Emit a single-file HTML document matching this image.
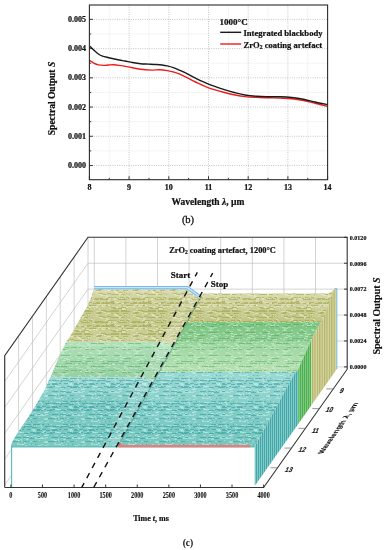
<!DOCTYPE html>
<html><head><meta charset="utf-8"><title>Spectral output</title><style>
html,body{margin:0;padding:0;background:#fff;}
svg{display:block;}
text{font-family:"Liberation Serif","Times New Roman",serif;font-weight:bold;fill:#111;stroke:#111;stroke-width:0.22px;}
.tl{font-size:8px;}
.tl3{font-size:6.5px;}
.wl{font-size:6.4px;stroke-width:0.12px;font-family:"Liberation Sans",Arial,sans-serif;}
.tlb{font-size:7.4px;stroke-width:0.1px;}
.at3w{font-size:7.4px;stroke-width:0.12px;font-family:"Liberation Sans",Arial,sans-serif;}
.at3r{font-size:10px;stroke-width:0.15px;}
.at3t{font-size:8.35px;}
.at3s{font-size:9px;}
.at{font-size:9.5px;}
.at3{font-size:8px;}
.lg{font-size:8.6px;}
.lg0{font-size:9px;}
.cap{font-size:10.5px;font-weight:normal;stroke-width:0.3px;}
.capc{font-size:9.6px;stroke-width:0px;}
.gmaj{stroke:#b0b0b0;stroke-width:0.8;stroke-dasharray:0.9 1.4;}
.gmin{stroke:#ececec;stroke-width:0.6;}
.tk{stroke:#222;stroke-width:0.9;}
.tk2{stroke:#666;stroke-width:0.7;}
.frame{fill:none;stroke:#2a2a2a;stroke-width:1.1;}
.ck{fill:none;stroke:#1a1a1a;stroke-width:1.4;}
.cb{fill:none;stroke:#ee1c1c;stroke-width:1.4;}
.g3{stroke:#bcbcbc;stroke-width:0.65;}
.bx{fill:none;stroke:#333;stroke-width:1.1;stroke-linejoin:miter;}
.blu{fill:none;stroke:#74b8f0;stroke-width:3.3;}
.blui{fill:none;stroke:#cde6fb;stroke-width:1.3;}
.blu2{fill:none;stroke:#7cc0ec;stroke-width:1;}
.dash{stroke:#111;stroke-width:1.4;stroke-dasharray:5.8 5.65;stroke-dashoffset:1.3;}
</style></head>
<body><svg width="385" height="550" viewBox="0 0 385 550">
<defs><linearGradient id="gOlL" gradientUnits="userSpaceOnUse" x1="0" y1="288.0" x2="0" y2="342.0"><stop offset="0.000" stop-color="#dcdeb6"/><stop offset="0.167" stop-color="#d1d4a2"/><stop offset="0.407" stop-color="#c7cb90"/><stop offset="0.778" stop-color="#c8cc92"/><stop offset="1.000" stop-color="#cfd3a0"/></linearGradient><linearGradient id="gOlR" gradientUnits="userSpaceOnUse" x1="0" y1="293.0" x2="0" y2="322.0"><stop offset="0.000" stop-color="#d8daae"/><stop offset="0.414" stop-color="#cdd19c"/><stop offset="0.862" stop-color="#c3c788"/><stop offset="1.000" stop-color="#bfc384"/></linearGradient><linearGradient id="gGrL" gradientUnits="userSpaceOnUse" x1="0" y1="342.0" x2="0" y2="376.6"><stop offset="0.000" stop-color="#b2e0ba"/><stop offset="0.376" stop-color="#a6d9b0"/><stop offset="1.000" stop-color="#96d0a2"/></linearGradient><linearGradient id="gGrR" gradientUnits="userSpaceOnUse" x1="0" y1="322.0" x2="0" y2="372.8"><stop offset="0.000" stop-color="#7ac480"/><stop offset="0.256" stop-color="#88ca8c"/><stop offset="0.492" stop-color="#a2d8a4"/><stop offset="1.000" stop-color="#b6e0b2"/></linearGradient><linearGradient id="gTeL" gradientUnits="userSpaceOnUse" x1="0" y1="376.6" x2="0" y2="447.0"><stop offset="0.000" stop-color="#9cd8d2"/><stop offset="0.219" stop-color="#8cd0ca"/><stop offset="0.403" stop-color="#7cc8c2"/><stop offset="1.000" stop-color="#7ac8c0"/></linearGradient><linearGradient id="gTeR" gradientUnits="userSpaceOnUse" x1="0" y1="372.8" x2="0" y2="447.0"><stop offset="0.000" stop-color="#9cd8d2"/><stop offset="0.299" stop-color="#8ed2cc"/><stop offset="0.636" stop-color="#7ecac4"/><stop offset="1.000" stop-color="#78c6be"/></linearGradient><pattern id="tOl" width="37" height="23" patternUnits="userSpaceOnUse"><rect x="0" y="0" width="3" height="1" fill="rgba(140,145,40,0.42)"/><rect x="7" y="0" width="9" height="1" fill="rgba(140,145,40,0.42)"/><rect x="20" y="0" width="5" height="1" fill="rgba(140,145,40,0.42)"/><rect x="26" y="0" width="8" height="1" fill="rgba(140,145,40,0.42)"/><rect x="35" y="0" width="2" height="1" fill="rgba(140,145,40,0.42)"/><rect x="0" y="2" width="7" height="1" fill="rgba(140,145,40,0.42)"/><rect x="29" y="2" width="5" height="1" fill="rgba(140,145,40,0.42)"/><rect x="0" y="3" width="3" height="1" fill="rgba(140,145,40,0.42)"/><rect x="13" y="3" width="5" height="1" fill="rgba(140,145,40,0.42)"/><rect x="22" y="3" width="8" height="1" fill="rgba(140,145,40,0.42)"/><rect x="31" y="3" width="6" height="1" fill="rgba(140,145,40,0.42)"/><rect x="0" y="4" width="4" height="1" fill="rgba(140,145,40,0.42)"/><rect x="7" y="4" width="3" height="1" fill="rgba(140,145,40,0.42)"/><rect x="11" y="4" width="4" height="1" fill="rgba(140,145,40,0.42)"/><rect x="19" y="4" width="7" height="1" fill="rgba(140,145,40,0.42)"/><rect x="27" y="4" width="9" height="1" fill="rgba(140,145,40,0.42)"/><rect x="7" y="6" width="5" height="1" fill="rgba(140,145,40,0.42)"/><rect x="15" y="6" width="7" height="1" fill="rgba(140,145,40,0.42)"/><rect x="25" y="6" width="2" height="1" fill="rgba(140,145,40,0.42)"/><rect x="29" y="6" width="5" height="1" fill="rgba(140,145,40,0.42)"/><rect x="0" y="8" width="7" height="1" fill="rgba(140,145,40,0.42)"/><rect x="8" y="8" width="7" height="1" fill="rgba(140,145,40,0.42)"/><rect x="0" y="9" width="6" height="1" fill="rgba(140,145,40,0.42)"/><rect x="7" y="9" width="4" height="1" fill="rgba(140,145,40,0.42)"/><rect x="12" y="9" width="4" height="1" fill="rgba(140,145,40,0.42)"/><rect x="0" y="11" width="8" height="1" fill="rgba(140,145,40,0.42)"/><rect x="10" y="11" width="6" height="1" fill="rgba(140,145,40,0.42)"/><rect x="27" y="11" width="5" height="1" fill="rgba(140,145,40,0.42)"/><rect x="0" y="12" width="8" height="1" fill="rgba(140,145,40,0.42)"/><rect x="10" y="12" width="9" height="1" fill="rgba(140,145,40,0.42)"/><rect x="31" y="12" width="6" height="1" fill="rgba(140,145,40,0.42)"/><rect x="24" y="13" width="6" height="1" fill="rgba(140,145,40,0.42)"/><rect x="0" y="14" width="2" height="1" fill="rgba(140,145,40,0.42)"/><rect x="5" y="14" width="3" height="1" fill="rgba(140,145,40,0.42)"/><rect x="12" y="14" width="5" height="1" fill="rgba(140,145,40,0.42)"/><rect x="21" y="14" width="6" height="1" fill="rgba(140,145,40,0.42)"/><rect x="7" y="16" width="7" height="1" fill="rgba(140,145,40,0.42)"/><rect x="15" y="17" width="7" height="1" fill="rgba(140,145,40,0.42)"/><rect x="23" y="17" width="6" height="1" fill="rgba(140,145,40,0.42)"/><rect x="33" y="17" width="4" height="1" fill="rgba(140,145,40,0.42)"/><rect x="0" y="18" width="8" height="1" fill="rgba(140,145,40,0.42)"/><rect x="10" y="18" width="4" height="1" fill="rgba(140,145,40,0.42)"/><rect x="18" y="18" width="3" height="1" fill="rgba(140,145,40,0.42)"/><rect x="29" y="18" width="6" height="1" fill="rgba(140,145,40,0.42)"/><rect x="0" y="21" width="2" height="1" fill="rgba(140,145,40,0.42)"/><rect x="3" y="21" width="2" height="1" fill="rgba(140,145,40,0.42)"/><rect x="9" y="21" width="4" height="1" fill="rgba(140,145,40,0.42)"/><rect x="15" y="21" width="5" height="1" fill="rgba(140,145,40,0.42)"/><rect x="33" y="21" width="4" height="1" fill="rgba(140,145,40,0.42)"/><rect x="6" y="22" width="2" height="1" fill="rgba(140,145,40,0.42)"/><rect x="11" y="22" width="7" height="1" fill="rgba(140,145,40,0.42)"/><rect x="21" y="22" width="8" height="1" fill="rgba(140,145,40,0.42)"/><rect x="32" y="22" width="5" height="1" fill="rgba(140,145,40,0.42)"/><rect x="34" y="22" width="3" height="1" fill="rgba(242,244,216,0.45)"/><rect x="22" y="8" width="2" height="1" fill="rgba(242,244,216,0.45)"/><rect x="34" y="6" width="2" height="1" fill="rgba(242,244,216,0.45)"/><rect x="12" y="7" width="2" height="1" fill="rgba(242,244,216,0.45)"/><rect x="5" y="8" width="1" height="1" fill="rgba(242,244,216,0.45)"/><rect x="28" y="2" width="4" height="1" fill="rgba(242,244,216,0.45)"/><rect x="21" y="7" width="3" height="1" fill="rgba(242,244,216,0.45)"/><rect x="19" y="1" width="2" height="1" fill="rgba(242,244,216,0.45)"/><rect x="11" y="10" width="4" height="1" fill="rgba(242,244,216,0.45)"/><rect x="19" y="7" width="2" height="1" fill="rgba(242,244,216,0.45)"/><rect x="6" y="17" width="4" height="1" fill="rgba(242,244,216,0.45)"/><rect x="5" y="7" width="2" height="1" fill="rgba(242,244,216,0.45)"/><rect x="1" y="7" width="3" height="1" fill="rgba(242,244,216,0.45)"/><rect x="4" y="8" width="4" height="1" fill="rgba(242,244,216,0.45)"/><rect x="4" y="2" width="1" height="1" fill="rgba(242,244,216,0.45)"/><rect x="0" y="9" width="2" height="1" fill="rgba(242,244,216,0.45)"/><rect x="31" y="15" width="2" height="1" fill="rgba(242,244,216,0.45)"/><rect x="6" y="16" width="2" height="1" fill="rgba(242,244,216,0.45)"/><rect x="4" y="16" width="2" height="1" fill="rgba(242,244,216,0.45)"/><rect x="11" y="4" width="2" height="1" fill="rgba(242,244,216,0.45)"/><rect x="20" y="9" width="1" height="1" fill="rgba(242,244,216,0.45)"/><rect x="32" y="19" width="2" height="1" fill="rgba(242,244,216,0.45)"/><rect x="8" y="6" width="2" height="1" fill="rgba(242,244,216,0.45)"/><rect x="34" y="1" width="2" height="1" fill="rgba(242,244,216,0.45)"/><rect x="35" y="22" width="2" height="1" fill="rgba(242,244,216,0.45)"/><rect x="11" y="9" width="3" height="1" fill="rgba(242,244,216,0.45)"/><rect x="34" y="5" width="1" height="1" fill="rgba(242,244,216,0.45)"/><rect x="15" y="8" width="1" height="1" fill="rgba(242,244,216,0.45)"/><rect x="28" y="13" width="4" height="1" fill="rgba(242,244,216,0.45)"/><rect x="16" y="17" width="3" height="1" fill="rgba(242,244,216,0.45)"/><rect x="34" y="14" width="1" height="1" fill="rgba(242,244,216,0.45)"/><rect x="25" y="10" width="2" height="1" fill="rgba(242,244,216,0.45)"/><rect x="16" y="15" width="1" height="1" fill="rgba(242,244,216,0.45)"/><rect x="26" y="18" width="1" height="1" fill="rgba(242,244,216,0.45)"/><rect x="3" y="22" width="2" height="1" fill="rgba(242,244,216,0.45)"/><rect x="8" y="18" width="2" height="1" fill="rgba(242,244,216,0.45)"/><rect x="8" y="8" width="2" height="1" fill="rgba(242,244,216,0.45)"/><rect x="25" y="18" width="3" height="1" fill="rgba(242,244,216,0.45)"/><rect x="11" y="19" width="1" height="1" fill="rgba(242,244,216,0.45)"/><rect x="14" y="15" width="1" height="1" fill="rgba(242,244,216,0.45)"/><rect x="11" y="16" width="2" height="1" fill="rgba(242,244,216,0.45)"/><rect x="32" y="20" width="3" height="1" fill="rgba(242,244,216,0.45)"/><rect x="14" y="7" width="2" height="1" fill="rgba(242,244,216,0.45)"/><rect x="31" y="21" width="3" height="1" fill="rgba(242,244,216,0.45)"/><rect x="14" y="22" width="3" height="1" fill="rgba(242,244,216,0.45)"/><rect x="21" y="17" width="4" height="1" fill="rgba(242,244,216,0.45)"/><rect x="17" y="20" width="2" height="1" fill="rgba(242,244,216,0.45)"/><rect x="3" y="2" width="4" height="1" fill="rgba(242,244,216,0.45)"/><rect x="23" y="5" width="4" height="1" fill="rgba(242,244,216,0.45)"/><rect x="13" y="9" width="2" height="1" fill="rgba(242,244,216,0.45)"/><rect x="19" y="17" width="2" height="1" fill="rgba(242,244,216,0.45)"/><rect x="10" y="22" width="3" height="1" fill="rgba(242,244,216,0.45)"/><rect x="5" y="3" width="4" height="1" fill="rgba(242,244,216,0.45)"/><rect x="32" y="18" width="3" height="1" fill="rgba(242,244,216,0.45)"/><rect x="11" y="4" width="2" height="1" fill="rgba(242,244,216,0.45)"/><rect x="27" y="6" width="4" height="1" fill="rgba(242,244,216,0.45)"/><rect x="3" y="15" width="3" height="1" fill="rgba(242,244,216,0.45)"/><rect x="22" y="12" width="4" height="1" fill="rgba(242,244,216,0.45)"/><rect x="10" y="17" width="1" height="1" fill="rgba(242,244,216,0.45)"/><rect x="33" y="2" width="2" height="1" fill="rgba(242,244,216,0.45)"/><rect x="6" y="8" width="1" height="1" fill="rgba(242,244,216,0.45)"/><rect x="8" y="19" width="1" height="1" fill="rgba(242,244,216,0.45)"/><rect x="28" y="7" width="3" height="1" fill="rgba(242,244,216,0.45)"/><rect x="27" y="12" width="2" height="1" fill="rgba(242,244,216,0.45)"/><rect x="20" y="14" width="2" height="1" fill="rgba(242,244,216,0.45)"/><rect x="31" y="6" width="1" height="1" fill="rgba(242,244,216,0.45)"/><rect x="27" y="19" width="4" height="1" fill="rgba(242,244,216,0.45)"/><rect x="26" y="3" width="2" height="1" fill="rgba(242,244,216,0.45)"/><rect x="17" y="7" width="3" height="1" fill="rgba(242,244,216,0.45)"/><rect x="35" y="0" width="2" height="1" fill="rgba(242,244,216,0.45)"/><rect x="33" y="14" width="4" height="1" fill="rgba(242,244,216,0.45)"/><rect x="1" y="0" width="4" height="1" fill="rgba(242,244,216,0.45)"/><rect x="15" y="8" width="2" height="1" fill="rgba(242,244,216,0.45)"/><rect x="11" y="9" width="2" height="1" fill="rgba(242,244,216,0.45)"/><rect x="34" y="6" width="2" height="1" fill="rgba(242,244,216,0.45)"/><rect x="19" y="18" width="2" height="1" fill="rgba(242,244,216,0.45)"/><rect x="28" y="5" width="4" height="1" fill="rgba(242,244,216,0.45)"/><rect x="22" y="15" width="3" height="1" fill="rgba(242,244,216,0.45)"/><rect x="7" y="6" width="4" height="1" fill="rgba(242,244,216,0.45)"/><rect x="24" y="6" width="2" height="1" fill="rgba(242,244,216,0.45)"/><rect x="6" y="0" width="1" height="1" fill="rgba(242,244,216,0.45)"/><rect x="36" y="0" width="4" height="1" fill="rgba(242,244,216,0.45)"/><rect x="18" y="21" width="2" height="1" fill="rgba(242,244,216,0.45)"/><rect x="4" y="16" width="2" height="1" fill="rgba(242,244,216,0.45)"/><rect x="36" y="9" width="3" height="1" fill="rgba(242,244,216,0.45)"/></pattern><pattern id="tGr" width="37" height="23" patternUnits="userSpaceOnUse"><rect x="0" y="2" width="3" height="1" fill="rgba(50,160,70,0.40)"/><rect x="5" y="2" width="6" height="1" fill="rgba(50,160,70,0.40)"/><rect x="13" y="2" width="2" height="1" fill="rgba(50,160,70,0.40)"/><rect x="28" y="2" width="9" height="1" fill="rgba(50,160,70,0.40)"/><rect x="11" y="4" width="4" height="1" fill="rgba(50,160,70,0.40)"/><rect x="17" y="4" width="5" height="1" fill="rgba(50,160,70,0.40)"/><rect x="25" y="4" width="4" height="1" fill="rgba(50,160,70,0.40)"/><rect x="0" y="10" width="9" height="1" fill="rgba(50,160,70,0.40)"/><rect x="24" y="10" width="9" height="1" fill="rgba(50,160,70,0.40)"/><rect x="13" y="13" width="7" height="1" fill="rgba(50,160,70,0.40)"/><rect x="0" y="16" width="8" height="1" fill="rgba(50,160,70,0.40)"/><rect x="10" y="16" width="9" height="1" fill="rgba(50,160,70,0.40)"/><rect x="29" y="16" width="3" height="1" fill="rgba(50,160,70,0.40)"/><rect x="33" y="16" width="4" height="1" fill="rgba(50,160,70,0.40)"/><rect x="0" y="18" width="6" height="1" fill="rgba(50,160,70,0.40)"/><rect x="8" y="18" width="2" height="1" fill="rgba(50,160,70,0.40)"/><rect x="11" y="18" width="2" height="1" fill="rgba(50,160,70,0.40)"/><rect x="28" y="18" width="7" height="1" fill="rgba(50,160,70,0.40)"/><rect x="17" y="21" width="6" height="1" fill="rgba(50,160,70,0.40)"/><rect x="24" y="21" width="6" height="1" fill="rgba(50,160,70,0.40)"/><rect x="14" y="2" width="2" height="1" fill="rgba(216,245,220,0.45)"/><rect x="6" y="0" width="3" height="1" fill="rgba(216,245,220,0.45)"/><rect x="8" y="16" width="4" height="1" fill="rgba(216,245,220,0.45)"/><rect x="25" y="15" width="4" height="1" fill="rgba(216,245,220,0.45)"/><rect x="20" y="4" width="2" height="1" fill="rgba(216,245,220,0.45)"/><rect x="16" y="8" width="4" height="1" fill="rgba(216,245,220,0.45)"/><rect x="26" y="20" width="1" height="1" fill="rgba(216,245,220,0.45)"/><rect x="35" y="4" width="1" height="1" fill="rgba(216,245,220,0.45)"/><rect x="16" y="1" width="2" height="1" fill="rgba(216,245,220,0.45)"/><rect x="10" y="5" width="1" height="1" fill="rgba(216,245,220,0.45)"/><rect x="29" y="20" width="2" height="1" fill="rgba(216,245,220,0.45)"/><rect x="32" y="22" width="1" height="1" fill="rgba(216,245,220,0.45)"/><rect x="15" y="7" width="3" height="1" fill="rgba(216,245,220,0.45)"/><rect x="4" y="8" width="1" height="1" fill="rgba(216,245,220,0.45)"/><rect x="14" y="19" width="4" height="1" fill="rgba(216,245,220,0.45)"/><rect x="23" y="8" width="3" height="1" fill="rgba(216,245,220,0.45)"/><rect x="17" y="16" width="1" height="1" fill="rgba(216,245,220,0.45)"/><rect x="9" y="1" width="3" height="1" fill="rgba(216,245,220,0.45)"/><rect x="26" y="5" width="1" height="1" fill="rgba(216,245,220,0.45)"/><rect x="32" y="2" width="2" height="1" fill="rgba(216,245,220,0.45)"/><rect x="6" y="3" width="1" height="1" fill="rgba(216,245,220,0.45)"/><rect x="11" y="7" width="1" height="1" fill="rgba(216,245,220,0.45)"/><rect x="13" y="0" width="4" height="1" fill="rgba(216,245,220,0.45)"/><rect x="29" y="14" width="2" height="1" fill="rgba(216,245,220,0.45)"/><rect x="34" y="20" width="3" height="1" fill="rgba(216,245,220,0.45)"/><rect x="13" y="21" width="2" height="1" fill="rgba(216,245,220,0.45)"/><rect x="27" y="13" width="4" height="1" fill="rgba(216,245,220,0.45)"/><rect x="1" y="18" width="4" height="1" fill="rgba(216,245,220,0.45)"/><rect x="3" y="13" width="4" height="1" fill="rgba(216,245,220,0.45)"/><rect x="11" y="3" width="3" height="1" fill="rgba(216,245,220,0.45)"/><rect x="23" y="0" width="4" height="1" fill="rgba(216,245,220,0.45)"/><rect x="7" y="19" width="2" height="1" fill="rgba(216,245,220,0.45)"/><rect x="18" y="22" width="2" height="1" fill="rgba(216,245,220,0.45)"/><rect x="19" y="0" width="3" height="1" fill="rgba(216,245,220,0.45)"/><rect x="6" y="3" width="2" height="1" fill="rgba(216,245,220,0.45)"/><rect x="12" y="21" width="1" height="1" fill="rgba(216,245,220,0.45)"/><rect x="28" y="1" width="3" height="1" fill="rgba(216,245,220,0.45)"/><rect x="31" y="14" width="2" height="1" fill="rgba(216,245,220,0.45)"/><rect x="4" y="0" width="2" height="1" fill="rgba(216,245,220,0.45)"/><rect x="1" y="11" width="2" height="1" fill="rgba(216,245,220,0.45)"/><rect x="4" y="7" width="3" height="1" fill="rgba(216,245,220,0.45)"/><rect x="12" y="3" width="4" height="1" fill="rgba(216,245,220,0.45)"/><rect x="23" y="12" width="3" height="1" fill="rgba(216,245,220,0.45)"/><rect x="8" y="11" width="3" height="1" fill="rgba(216,245,220,0.45)"/><rect x="7" y="8" width="1" height="1" fill="rgba(216,245,220,0.45)"/><rect x="7" y="2" width="4" height="1" fill="rgba(216,245,220,0.45)"/><rect x="21" y="20" width="3" height="1" fill="rgba(216,245,220,0.45)"/><rect x="13" y="22" width="1" height="1" fill="rgba(216,245,220,0.45)"/><rect x="1" y="19" width="3" height="1" fill="rgba(216,245,220,0.45)"/><rect x="2" y="22" width="3" height="1" fill="rgba(216,245,220,0.45)"/><rect x="18" y="11" width="3" height="1" fill="rgba(216,245,220,0.45)"/><rect x="9" y="11" width="2" height="1" fill="rgba(216,245,220,0.45)"/><rect x="30" y="16" width="3" height="1" fill="rgba(216,245,220,0.45)"/><rect x="26" y="15" width="2" height="1" fill="rgba(216,245,220,0.45)"/><rect x="25" y="7" width="2" height="1" fill="rgba(216,245,220,0.45)"/><rect x="31" y="19" width="2" height="1" fill="rgba(216,245,220,0.45)"/><rect x="35" y="13" width="1" height="1" fill="rgba(216,245,220,0.45)"/><rect x="36" y="3" width="1" height="1" fill="rgba(216,245,220,0.45)"/><rect x="22" y="5" width="4" height="1" fill="rgba(216,245,220,0.45)"/><rect x="9" y="13" width="1" height="1" fill="rgba(216,245,220,0.45)"/><rect x="5" y="21" width="1" height="1" fill="rgba(216,245,220,0.45)"/><rect x="8" y="9" width="3" height="1" fill="rgba(216,245,220,0.45)"/><rect x="14" y="22" width="2" height="1" fill="rgba(216,245,220,0.45)"/><rect x="28" y="5" width="4" height="1" fill="rgba(216,245,220,0.45)"/><rect x="18" y="3" width="2" height="1" fill="rgba(216,245,220,0.45)"/><rect x="34" y="13" width="1" height="1" fill="rgba(216,245,220,0.45)"/><rect x="21" y="16" width="2" height="1" fill="rgba(216,245,220,0.45)"/><rect x="32" y="8" width="2" height="1" fill="rgba(216,245,220,0.45)"/><rect x="10" y="14" width="2" height="1" fill="rgba(216,245,220,0.45)"/><rect x="25" y="11" width="4" height="1" fill="rgba(216,245,220,0.45)"/><rect x="9" y="14" width="3" height="1" fill="rgba(216,245,220,0.45)"/><rect x="1" y="19" width="3" height="1" fill="rgba(216,245,220,0.45)"/><rect x="11" y="12" width="4" height="1" fill="rgba(216,245,220,0.45)"/><rect x="3" y="15" width="2" height="1" fill="rgba(216,245,220,0.45)"/><rect x="25" y="8" width="3" height="1" fill="rgba(216,245,220,0.45)"/><rect x="30" y="11" width="4" height="1" fill="rgba(216,245,220,0.45)"/><rect x="21" y="22" width="1" height="1" fill="rgba(216,245,220,0.45)"/><rect x="14" y="17" width="4" height="1" fill="rgba(216,245,220,0.45)"/><rect x="12" y="12" width="3" height="1" fill="rgba(216,245,220,0.45)"/><rect x="0" y="10" width="3" height="1" fill="rgba(216,245,220,0.45)"/><rect x="33" y="22" width="3" height="1" fill="rgba(216,245,220,0.45)"/><rect x="11" y="3" width="1" height="1" fill="rgba(216,245,220,0.45)"/><rect x="25" y="6" width="4" height="1" fill="rgba(216,245,220,0.45)"/><rect x="24" y="6" width="1" height="1" fill="rgba(216,245,220,0.45)"/><rect x="24" y="17" width="2" height="1" fill="rgba(216,245,220,0.45)"/></pattern><pattern id="tTe" width="37" height="23" patternUnits="userSpaceOnUse"><rect x="0" y="0" width="4" height="1" fill="rgba(20,140,145,0.42)"/><rect x="15" y="0" width="6" height="1" fill="rgba(20,140,145,0.42)"/><rect x="23" y="0" width="9" height="1" fill="rgba(20,140,145,0.42)"/><rect x="25" y="1" width="9" height="1" fill="rgba(20,140,145,0.42)"/><rect x="11" y="4" width="7" height="1" fill="rgba(20,140,145,0.42)"/><rect x="20" y="4" width="9" height="1" fill="rgba(20,140,145,0.42)"/><rect x="33" y="4" width="4" height="1" fill="rgba(20,140,145,0.42)"/><rect x="30" y="7" width="6" height="1" fill="rgba(20,140,145,0.42)"/><rect x="0" y="10" width="3" height="1" fill="rgba(20,140,145,0.42)"/><rect x="5" y="10" width="2" height="1" fill="rgba(20,140,145,0.42)"/><rect x="11" y="10" width="3" height="1" fill="rgba(20,140,145,0.42)"/><rect x="26" y="10" width="6" height="1" fill="rgba(20,140,145,0.42)"/><rect x="33" y="10" width="4" height="1" fill="rgba(20,140,145,0.42)"/><rect x="8" y="12" width="6" height="1" fill="rgba(20,140,145,0.42)"/><rect x="15" y="12" width="7" height="1" fill="rgba(20,140,145,0.42)"/><rect x="24" y="12" width="8" height="1" fill="rgba(20,140,145,0.42)"/><rect x="9" y="13" width="6" height="1" fill="rgba(20,140,145,0.42)"/><rect x="23" y="13" width="2" height="1" fill="rgba(20,140,145,0.42)"/><rect x="32" y="13" width="5" height="1" fill="rgba(20,140,145,0.42)"/><rect x="0" y="15" width="9" height="1" fill="rgba(20,140,145,0.42)"/><rect x="15" y="15" width="9" height="1" fill="rgba(20,140,145,0.42)"/><rect x="27" y="15" width="4" height="1" fill="rgba(20,140,145,0.42)"/><rect x="0" y="16" width="8" height="1" fill="rgba(20,140,145,0.42)"/><rect x="9" y="16" width="4" height="1" fill="rgba(20,140,145,0.42)"/><rect x="15" y="16" width="6" height="1" fill="rgba(20,140,145,0.42)"/><rect x="0" y="18" width="4" height="1" fill="rgba(20,140,145,0.42)"/><rect x="6" y="18" width="9" height="1" fill="rgba(20,140,145,0.42)"/><rect x="16" y="18" width="2" height="1" fill="rgba(20,140,145,0.42)"/><rect x="29" y="18" width="6" height="1" fill="rgba(20,140,145,0.42)"/><rect x="36" y="18" width="1" height="1" fill="rgba(20,140,145,0.42)"/><rect x="0" y="19" width="6" height="1" fill="rgba(20,140,145,0.42)"/><rect x="10" y="19" width="6" height="1" fill="rgba(20,140,145,0.42)"/><rect x="24" y="19" width="5" height="1" fill="rgba(20,140,145,0.42)"/><rect x="33" y="19" width="4" height="1" fill="rgba(20,140,145,0.42)"/><rect x="18" y="17" width="2" height="1" fill="rgba(206,244,242,0.45)"/><rect x="14" y="2" width="4" height="1" fill="rgba(206,244,242,0.45)"/><rect x="18" y="3" width="2" height="1" fill="rgba(206,244,242,0.45)"/><rect x="2" y="1" width="4" height="1" fill="rgba(206,244,242,0.45)"/><rect x="12" y="13" width="4" height="1" fill="rgba(206,244,242,0.45)"/><rect x="3" y="0" width="3" height="1" fill="rgba(206,244,242,0.45)"/><rect x="7" y="5" width="4" height="1" fill="rgba(206,244,242,0.45)"/><rect x="19" y="7" width="1" height="1" fill="rgba(206,244,242,0.45)"/><rect x="33" y="17" width="3" height="1" fill="rgba(206,244,242,0.45)"/><rect x="3" y="19" width="1" height="1" fill="rgba(206,244,242,0.45)"/><rect x="21" y="4" width="2" height="1" fill="rgba(206,244,242,0.45)"/><rect x="34" y="15" width="1" height="1" fill="rgba(206,244,242,0.45)"/><rect x="22" y="7" width="2" height="1" fill="rgba(206,244,242,0.45)"/><rect x="7" y="17" width="1" height="1" fill="rgba(206,244,242,0.45)"/><rect x="10" y="7" width="2" height="1" fill="rgba(206,244,242,0.45)"/><rect x="8" y="0" width="3" height="1" fill="rgba(206,244,242,0.45)"/><rect x="36" y="12" width="1" height="1" fill="rgba(206,244,242,0.45)"/><rect x="17" y="7" width="2" height="1" fill="rgba(206,244,242,0.45)"/><rect x="33" y="16" width="3" height="1" fill="rgba(206,244,242,0.45)"/><rect x="3" y="15" width="2" height="1" fill="rgba(206,244,242,0.45)"/><rect x="0" y="1" width="2" height="1" fill="rgba(206,244,242,0.45)"/><rect x="2" y="3" width="1" height="1" fill="rgba(206,244,242,0.45)"/><rect x="4" y="15" width="1" height="1" fill="rgba(206,244,242,0.45)"/><rect x="5" y="16" width="4" height="1" fill="rgba(206,244,242,0.45)"/><rect x="31" y="10" width="2" height="1" fill="rgba(206,244,242,0.45)"/><rect x="20" y="2" width="2" height="1" fill="rgba(206,244,242,0.45)"/><rect x="24" y="20" width="3" height="1" fill="rgba(206,244,242,0.45)"/><rect x="19" y="11" width="2" height="1" fill="rgba(206,244,242,0.45)"/><rect x="12" y="10" width="3" height="1" fill="rgba(206,244,242,0.45)"/><rect x="7" y="4" width="4" height="1" fill="rgba(206,244,242,0.45)"/><rect x="0" y="22" width="3" height="1" fill="rgba(206,244,242,0.45)"/><rect x="5" y="18" width="2" height="1" fill="rgba(206,244,242,0.45)"/><rect x="2" y="11" width="3" height="1" fill="rgba(206,244,242,0.45)"/><rect x="34" y="12" width="1" height="1" fill="rgba(206,244,242,0.45)"/><rect x="27" y="1" width="2" height="1" fill="rgba(206,244,242,0.45)"/><rect x="31" y="22" width="2" height="1" fill="rgba(206,244,242,0.45)"/><rect x="26" y="22" width="3" height="1" fill="rgba(206,244,242,0.45)"/><rect x="29" y="0" width="2" height="1" fill="rgba(206,244,242,0.45)"/><rect x="13" y="17" width="2" height="1" fill="rgba(206,244,242,0.45)"/><rect x="4" y="13" width="2" height="1" fill="rgba(206,244,242,0.45)"/><rect x="27" y="4" width="1" height="1" fill="rgba(206,244,242,0.45)"/><rect x="20" y="11" width="4" height="1" fill="rgba(206,244,242,0.45)"/><rect x="16" y="3" width="3" height="1" fill="rgba(206,244,242,0.45)"/><rect x="7" y="21" width="4" height="1" fill="rgba(206,244,242,0.45)"/><rect x="24" y="21" width="1" height="1" fill="rgba(206,244,242,0.45)"/><rect x="20" y="18" width="4" height="1" fill="rgba(206,244,242,0.45)"/><rect x="6" y="18" width="1" height="1" fill="rgba(206,244,242,0.45)"/><rect x="30" y="4" width="2" height="1" fill="rgba(206,244,242,0.45)"/><rect x="24" y="1" width="4" height="1" fill="rgba(206,244,242,0.45)"/><rect x="5" y="18" width="1" height="1" fill="rgba(206,244,242,0.45)"/><rect x="24" y="5" width="1" height="1" fill="rgba(206,244,242,0.45)"/><rect x="21" y="3" width="1" height="1" fill="rgba(206,244,242,0.45)"/><rect x="7" y="21" width="3" height="1" fill="rgba(206,244,242,0.45)"/><rect x="18" y="18" width="2" height="1" fill="rgba(206,244,242,0.45)"/><rect x="5" y="1" width="4" height="1" fill="rgba(206,244,242,0.45)"/><rect x="32" y="16" width="2" height="1" fill="rgba(206,244,242,0.45)"/><rect x="6" y="17" width="1" height="1" fill="rgba(206,244,242,0.45)"/><rect x="35" y="1" width="4" height="1" fill="rgba(206,244,242,0.45)"/><rect x="20" y="18" width="2" height="1" fill="rgba(206,244,242,0.45)"/><rect x="4" y="7" width="2" height="1" fill="rgba(206,244,242,0.45)"/><rect x="15" y="14" width="4" height="1" fill="rgba(206,244,242,0.45)"/><rect x="25" y="8" width="2" height="1" fill="rgba(206,244,242,0.45)"/><rect x="25" y="11" width="4" height="1" fill="rgba(206,244,242,0.45)"/><rect x="26" y="2" width="3" height="1" fill="rgba(206,244,242,0.45)"/><rect x="32" y="7" width="3" height="1" fill="rgba(206,244,242,0.45)"/><rect x="10" y="13" width="4" height="1" fill="rgba(206,244,242,0.45)"/><rect x="33" y="21" width="3" height="1" fill="rgba(206,244,242,0.45)"/><rect x="9" y="20" width="3" height="1" fill="rgba(206,244,242,0.45)"/><rect x="9" y="5" width="1" height="1" fill="rgba(206,244,242,0.45)"/><rect x="31" y="15" width="4" height="1" fill="rgba(206,244,242,0.45)"/><rect x="28" y="18" width="2" height="1" fill="rgba(206,244,242,0.45)"/><rect x="8" y="8" width="2" height="1" fill="rgba(206,244,242,0.45)"/><rect x="9" y="18" width="4" height="1" fill="rgba(206,244,242,0.45)"/><rect x="20" y="7" width="4" height="1" fill="rgba(206,244,242,0.45)"/><rect x="18" y="21" width="3" height="1" fill="rgba(206,244,242,0.45)"/><rect x="17" y="6" width="2" height="1" fill="rgba(206,244,242,0.45)"/><rect x="1" y="8" width="3" height="1" fill="rgba(206,244,242,0.45)"/><rect x="24" y="6" width="2" height="1" fill="rgba(206,244,242,0.45)"/><rect x="36" y="11" width="2" height="1" fill="rgba(206,244,242,0.45)"/><rect x="20" y="15" width="2" height="1" fill="rgba(206,244,242,0.45)"/><rect x="26" y="22" width="3" height="1" fill="rgba(206,244,242,0.45)"/><rect x="13" y="14" width="4" height="1" fill="rgba(206,244,242,0.45)"/><rect x="35" y="0" width="3" height="1" fill="rgba(206,244,242,0.45)"/><rect x="4" y="12" width="1" height="1" fill="rgba(206,244,242,0.45)"/><rect x="29" y="7" width="2" height="1" fill="rgba(206,244,242,0.45)"/></pattern><pattern id="sTe" width="2" height="10" patternUnits="userSpaceOnUse"><rect width="2" height="10" fill="#88cccc"/><rect width="1.1" height="10" fill="#44a8a8"/></pattern>
<pattern id="sGr" width="2" height="10" patternUnits="userSpaceOnUse"><rect width="2" height="10" fill="#8ad28a"/><rect width="1.2" height="10" fill="#4cb052"/></pattern>
<pattern id="sOl" width="2.4" height="10" patternUnits="userSpaceOnUse"><rect width="2.4" height="10" fill="#d6d6a0"/><rect width="1.2" height="10" fill="#b4b46c"/></pattern>
</defs>
<line x1="109.25" y1="5.00" x2="109.25" y2="179.70" class="gmin"/>
<line x1="129.10" y1="5.00" x2="129.10" y2="179.70" class="gmaj"/>
<line x1="148.95" y1="5.00" x2="148.95" y2="179.70" class="gmin"/>
<line x1="168.80" y1="5.00" x2="168.80" y2="179.70" class="gmaj"/>
<line x1="188.65" y1="5.00" x2="188.65" y2="179.70" class="gmin"/>
<line x1="208.50" y1="5.00" x2="208.50" y2="179.70" class="gmaj"/>
<line x1="228.35" y1="5.00" x2="228.35" y2="179.70" class="gmin"/>
<line x1="248.20" y1="5.00" x2="248.20" y2="179.70" class="gmaj"/>
<line x1="268.05" y1="5.00" x2="268.05" y2="179.70" class="gmin"/>
<line x1="287.90" y1="5.00" x2="287.90" y2="179.70" class="gmaj"/>
<line x1="307.75" y1="5.00" x2="307.75" y2="179.70" class="gmin"/>
<line x1="89.40" y1="165.50" x2="327.60" y2="165.50" class="gmaj"/>
<line x1="89.40" y1="150.89" x2="327.60" y2="150.89" class="gmin"/>
<line x1="89.40" y1="136.28" x2="327.60" y2="136.28" class="gmaj"/>
<line x1="89.40" y1="121.67" x2="327.60" y2="121.67" class="gmin"/>
<line x1="89.40" y1="107.06" x2="327.60" y2="107.06" class="gmaj"/>
<line x1="89.40" y1="92.45" x2="327.60" y2="92.45" class="gmin"/>
<line x1="89.40" y1="77.84" x2="327.60" y2="77.84" class="gmaj"/>
<line x1="89.40" y1="63.23" x2="327.60" y2="63.23" class="gmin"/>
<line x1="89.40" y1="48.62" x2="327.60" y2="48.62" class="gmaj"/>
<line x1="89.40" y1="34.01" x2="327.60" y2="34.01" class="gmin"/>
<line x1="89.40" y1="19.40" x2="327.60" y2="19.40" class="gmaj"/>
<line x1="89.40" y1="165.50" x2="92.90" y2="165.50" class="tk"/>
<line x1="89.40" y1="150.89" x2="91.20" y2="150.89" class="tk"/>
<line x1="89.40" y1="136.28" x2="92.90" y2="136.28" class="tk"/>
<line x1="89.40" y1="121.67" x2="91.20" y2="121.67" class="tk"/>
<line x1="89.40" y1="107.06" x2="92.90" y2="107.06" class="tk"/>
<line x1="89.40" y1="92.45" x2="91.20" y2="92.45" class="tk"/>
<line x1="89.40" y1="77.84" x2="92.90" y2="77.84" class="tk"/>
<line x1="89.40" y1="63.23" x2="91.20" y2="63.23" class="tk"/>
<line x1="89.40" y1="48.62" x2="92.90" y2="48.62" class="tk"/>
<line x1="89.40" y1="34.01" x2="91.20" y2="34.01" class="tk"/>
<line x1="89.40" y1="19.40" x2="92.90" y2="19.40" class="tk"/>
<line x1="89.40" y1="179.70" x2="89.40" y2="176.20" class="tk"/>
<line x1="109.25" y1="179.70" x2="109.25" y2="177.90" class="tk"/>
<line x1="129.10" y1="179.70" x2="129.10" y2="176.20" class="tk"/>
<line x1="148.95" y1="179.70" x2="148.95" y2="177.90" class="tk"/>
<line x1="168.80" y1="179.70" x2="168.80" y2="176.20" class="tk"/>
<line x1="188.65" y1="179.70" x2="188.65" y2="177.90" class="tk"/>
<line x1="208.50" y1="179.70" x2="208.50" y2="176.20" class="tk"/>
<line x1="228.35" y1="179.70" x2="228.35" y2="177.90" class="tk"/>
<line x1="248.20" y1="179.70" x2="248.20" y2="176.20" class="tk"/>
<line x1="268.05" y1="179.70" x2="268.05" y2="177.90" class="tk"/>
<line x1="287.90" y1="179.70" x2="287.90" y2="176.20" class="tk"/>
<line x1="307.75" y1="179.70" x2="307.75" y2="177.90" class="tk"/>
<line x1="327.60" y1="179.70" x2="327.60" y2="176.20" class="tk"/>
<path d="M89.40,60.30 C90.20,60.82 92.70,62.63 94.20,63.40 C95.70,64.17 96.83,64.57 98.40,64.90 C99.97,65.23 101.87,65.38 103.60,65.40 C105.33,65.42 107.07,65.10 108.80,65.00 C110.53,64.90 112.27,64.73 114.00,64.80 C115.73,64.87 116.87,65.05 119.20,65.40 C121.53,65.75 124.43,66.25 128.00,66.90 C131.57,67.55 136.68,68.77 140.60,69.30 C144.52,69.83 148.38,70.03 151.50,70.10 C154.62,70.17 156.70,69.62 159.30,69.70 C161.90,69.78 164.25,70.07 167.10,70.60 C169.95,71.13 173.42,71.90 176.40,72.90 C179.38,73.90 181.80,75.08 185.00,76.60 C188.20,78.12 191.77,80.17 195.60,82.00 C199.43,83.83 203.33,85.88 208.00,87.60 C212.67,89.32 219.08,91.07 223.60,92.30 C228.12,93.53 231.53,94.28 235.10,95.00 C238.67,95.72 241.40,96.20 245.00,96.60 C248.60,97.00 252.80,97.20 256.70,97.40 C260.60,97.60 264.50,97.68 268.40,97.80 C272.30,97.92 276.20,97.95 280.10,98.10 C284.00,98.25 287.92,98.30 291.80,98.70 C295.68,99.10 299.52,99.73 303.40,100.50 C307.28,101.27 311.07,102.32 315.10,103.30 C319.13,104.28 325.52,105.88 327.60,106.40" class="cb"/>
<path d="M89.40,45.90 C90.20,46.65 92.70,49.05 94.20,50.40 C95.70,51.75 97.02,53.05 98.40,54.00 C99.78,54.95 100.77,55.48 102.50,56.10 C104.23,56.72 106.02,57.05 108.80,57.70 C111.58,58.35 116.50,59.45 119.20,60.00 C121.90,60.55 122.78,60.58 125.00,61.00 C127.22,61.42 129.90,62.05 132.50,62.50 C135.10,62.95 137.95,63.43 140.60,63.70 C143.25,63.97 145.80,63.97 148.40,64.10 C151.00,64.23 153.93,64.35 156.20,64.50 C158.47,64.65 160.18,64.77 162.00,65.00 C163.82,65.23 165.22,65.47 167.10,65.90 C168.98,66.33 171.15,66.85 173.30,67.60 C175.45,68.35 177.55,69.30 180.00,70.40 C182.45,71.50 185.40,72.90 188.00,74.20 C190.60,75.50 192.27,76.60 195.60,78.20 C198.93,79.80 203.33,81.95 208.00,83.80 C212.67,85.65 219.08,87.82 223.60,89.30 C228.12,90.78 231.53,91.75 235.10,92.70 C238.67,93.65 241.40,94.40 245.00,95.00 C248.60,95.60 252.80,96.02 256.70,96.30 C260.60,96.58 264.50,96.62 268.40,96.70 C272.30,96.78 276.20,96.67 280.10,96.80 C284.00,96.93 287.92,97.10 291.80,97.50 C295.68,97.90 299.52,98.45 303.40,99.20 C307.28,99.95 311.07,101.08 315.10,102.00 C319.13,102.92 325.52,104.25 327.60,104.70" class="ck"/>
<rect x="89.40" y="5.00" width="238.20" height="174.70" class="frame"/>
<text x="86" y="168.10" class="tl" text-anchor="end">0.000</text>
<text x="86" y="138.88" class="tl" text-anchor="end">0.001</text>
<text x="86" y="109.66" class="tl" text-anchor="end">0.002</text>
<text x="86" y="80.44" class="tl" text-anchor="end">0.003</text>
<text x="86" y="51.22" class="tl" text-anchor="end">0.004</text>
<text x="86" y="22.00" class="tl" text-anchor="end">0.005</text>
<text x="89.40" y="190" class="tl" text-anchor="middle">8</text>
<text x="129.10" y="190" class="tl" text-anchor="middle">9</text>
<text x="168.80" y="190" class="tl" text-anchor="middle">10</text>
<text x="208.50" y="190" class="tl" text-anchor="middle">11</text>
<text x="248.20" y="190" class="tl" text-anchor="middle">12</text>
<text x="287.90" y="190" class="tl" text-anchor="middle">13</text>
<text x="327.60" y="190" class="tl" text-anchor="middle">14</text>
<text x="208" y="205" class="at" text-anchor="middle">Wavelength <tspan font-style="italic">&#955;</tspan>, &#181;m</text>
<text transform="translate(54.5,98.5) rotate(-90)" class="at" text-anchor="middle">Spectral Output <tspan font-style="italic">S</tspan></text>
<text x="188" y="223.2" class="cap" text-anchor="middle">(b)</text>
<text x="219.6" y="24.8" class="lg0">1000&#176;C</text>
<line x1="220.2" y1="32.3" x2="241.2" y2="32.3" class="ck"/>
<line x1="220.2" y1="44" x2="241.2" y2="44" class="cb"/>
<text x="243.5" y="36.1" class="lg">Integrated blackbody</text>
<text x="243.5" y="47.6" class="lg">ZrO<tspan font-size="5.5" dy="1.8">2</tspan><tspan dy="-1.8"> coating artefact</tspan></text>
<line x1="94.30" y1="237.30" x2="94.30" y2="366.90" class="g3"/>
<line x1="125.90" y1="237.30" x2="125.90" y2="366.90" class="g3"/>
<line x1="157.50" y1="237.30" x2="157.50" y2="366.90" class="g3"/>
<line x1="189.10" y1="237.30" x2="189.10" y2="366.90" class="g3"/>
<line x1="220.70" y1="237.30" x2="220.70" y2="366.90" class="g3"/>
<line x1="252.30" y1="237.30" x2="252.30" y2="366.90" class="g3"/>
<line x1="283.90" y1="237.30" x2="283.90" y2="366.90" class="g3"/>
<line x1="315.50" y1="237.30" x2="315.50" y2="366.90" class="g3"/>
<line x1="88.00" y1="237.30" x2="88.00" y2="369.20" class="g3"/>
<line x1="88.00" y1="366.90" x2="347.20" y2="366.90" class="g3"/>
<line x1="88.00" y1="340.98" x2="347.20" y2="340.98" class="g3"/>
<line x1="88.00" y1="315.06" x2="347.20" y2="315.06" class="g3"/>
<line x1="88.00" y1="289.14" x2="347.20" y2="289.14" class="g3"/>
<line x1="88.00" y1="263.22" x2="347.20" y2="263.22" class="g3"/>
<line x1="74.12" y1="257.02" x2="74.12" y2="386.62" class="g3"/>
<line x1="60.23" y1="276.73" x2="60.23" y2="406.33" class="g3"/>
<line x1="46.35" y1="296.45" x2="46.35" y2="426.05" class="g3"/>
<line x1="32.47" y1="316.17" x2="32.47" y2="445.77" class="g3"/>
<line x1="18.58" y1="335.88" x2="18.58" y2="465.48" class="g3"/>
<line x1="4.70" y1="355.60" x2="4.70" y2="485.20" class="g3"/>
<line x1="88.00" y1="366.90" x2="4.70" y2="485.20" class="g3"/>
<line x1="88.00" y1="340.98" x2="4.70" y2="459.28" class="g3"/>
<line x1="88.00" y1="315.06" x2="4.70" y2="433.36" class="g3"/>
<line x1="88.00" y1="289.14" x2="4.70" y2="407.44" class="g3"/>
<line x1="88.00" y1="263.22" x2="4.70" y2="381.52" class="g3"/>
<clipPath id="cL"><polygon points="0,250 227.02,250 93.82,490 0,490"/></clipPath>
<clipPath id="cR"><polygon points="227.02,250 400,250 400,490 93.82,490"/></clipPath>
<g clip-path="url(#cL)">
<polygon points="94.00,288.50 188.30,288.50 199.70,295.60 204.00,293.60 328.50,293.50 334.50,289.50 336.70,288.50 329.00,303.00 322.70,319.50 321.23,322.00 187.06,322.00 174.57,344.50 159.89,342.00 66.20,342.00 71.90,333.20 77.10,324.20 82.30,315.00 87.50,306.00 91.40,297.00 93.30,290.40" fill="url(#gOlL)"/>
<polygon points="66.20,342.00 159.89,342.00 174.57,344.50 187.06,322.00 321.23,322.00 313.00,336.00 310.10,342.50 304.00,356.00 298.20,369.40 296.06,372.00 159.31,372.00 155.04,379.70 140.97,377.20 50.49,377.20 50.80,376.60 53.40,370.00 57.30,361.00 61.20,351.90" fill="url(#gGrL)"/>
<polygon points="50.49,377.20 140.97,377.20 155.04,379.70 159.31,372.00 296.06,372.00 294.00,374.50 254.50,447.00 10.90,447.00 11.00,445.00 13.00,440.50 16.90,434.00 22.10,426.20 29.20,415.80 35.70,405.40 41.60,395.00 44.90,389.50 48.80,380.50" fill="url(#gTeL)"/>
</g>
<g clip-path="url(#cR)">
<polygon points="94.00,288.50 188.30,288.50 199.70,295.60 204.00,293.60 328.50,293.50 334.50,289.50 336.70,288.50 329.00,303.00 322.70,319.50 321.23,322.00 187.06,322.00 174.57,344.50 159.89,342.00 66.20,342.00 71.90,333.20 77.10,324.20 82.30,315.00 87.50,306.00 91.40,297.00 93.30,290.40" fill="url(#gOlR)"/>
<polygon points="66.20,342.00 159.89,342.00 174.57,344.50 187.06,322.00 321.23,322.00 313.00,336.00 310.10,342.50 304.00,356.00 298.20,369.40 296.06,372.00 159.31,372.00 155.04,379.70 140.97,377.20 50.49,377.20 50.80,376.60 53.40,370.00 57.30,361.00 61.20,351.90" fill="url(#gGrR)"/>
<polygon points="50.49,377.20 140.97,377.20 155.04,379.70 159.31,372.00 296.06,372.00 294.00,374.50 254.50,447.00 10.90,447.00 11.00,445.00 13.00,440.50 16.90,434.00 22.10,426.20 29.20,415.80 35.70,405.40 41.60,395.00 44.90,389.50 48.80,380.50" fill="url(#gTeR)"/>
</g>
<polygon points="94.00,288.50 188.30,288.50 199.70,295.60 204.00,293.60 328.50,293.50 334.50,289.50 336.70,288.50 329.00,303.00 322.70,319.50 321.23,322.00 187.06,322.00 174.57,344.50 159.89,342.00 66.20,342.00 71.90,333.20 77.10,324.20 82.30,315.00 87.50,306.00 91.40,297.00 93.30,290.40" fill="url(#tOl)"/>
<polygon points="66.20,342.00 159.89,342.00 174.57,344.50 187.06,322.00 321.23,322.00 313.00,336.00 310.10,342.50 304.00,356.00 298.20,369.40 296.06,372.00 159.31,372.00 155.04,379.70 140.97,377.20 50.49,377.20 50.80,376.60 53.40,370.00 57.30,361.00 61.20,351.90" fill="url(#tGr)"/>
<polygon points="50.49,377.20 140.97,377.20 155.04,379.70 159.31,372.00 296.06,372.00 294.00,374.50 254.50,447.00 10.90,447.00 11.00,445.00 13.00,440.50 16.90,434.00 22.10,426.20 29.20,415.80 35.70,405.40 41.60,395.00 44.90,389.50 48.80,380.50" fill="url(#tTe)"/>
<clipPath id="cs"><polygon points="254.50,447.00 294.00,374.50 298.20,369.40 304.00,356.00 310.10,342.50 313.00,336.00 322.70,319.50 329.00,303.00 334.50,289.50 336.70,288.50 336.70,369.20 254.50,486.20"/></clipPath>
<g clip-path="url(#cs)">
<rect x="254" y="280" width="44.2" height="210" fill="url(#sTe)"/>
<rect x="298.2" y="280" width="13.2" height="210" fill="url(#sGr)"/>
<rect x="311.4" y="280" width="26" height="210" fill="url(#sOl)"/>
</g>
<polyline points="94,287.6 187.2,287.6 199.4,296.2" class="blu"/>
<polyline points="94,287.6 187.2,287.6 199.4,296.2" class="blui"/>
<polyline points="334.5,288.6 336.9,288.4 336.9,369" class="blu2"/>
<rect x="11.6" y="447" width="242.9" height="40.5" fill="#fff"/>
<line x1="11.6" y1="447" x2="11.6" y2="487" stroke="#5cc0bc" stroke-width="1.2"/>
<line x1="10.9" y1="447" x2="254.5" y2="447" stroke="#48aeaa" stroke-width="0.8"/>
<polygon points="117.5,447.2 119.8,442.5 123,445 250,445 250,447.2" fill="#f07a78"/>
<polygon points="186.76,292.00 199.99,296.00 117.30,445.00 103.45,447.00" fill="rgba(255,255,255,0.16)"/>
<line x1="201.49" y1="296" x2="118.24" y2="446" stroke="rgba(20,110,100,0.5)" stroke-width="1"/>
<polyline points="4.7,487.5 4.7,355.6 88,237.3 347.2,237.3 347.2,369.2 263.6,487.5 4.7,487.5" class="bx"/>
<line x1="344" y1="366.90" x2="347.2" y2="366.90" class="tk"/>
<text transform="translate(349.8,369.20) scale(0.93,1)" class="tl3">0.0000</text>
<line x1="344" y1="340.98" x2="347.2" y2="340.98" class="tk"/>
<text transform="translate(349.8,343.28) scale(0.93,1)" class="tl3">0.0024</text>
<line x1="344" y1="315.06" x2="347.2" y2="315.06" class="tk"/>
<text transform="translate(349.8,317.36) scale(0.93,1)" class="tl3">0.0048</text>
<line x1="344" y1="289.14" x2="347.2" y2="289.14" class="tk"/>
<text transform="translate(349.8,291.44) scale(0.93,1)" class="tl3">0.0072</text>
<line x1="344" y1="263.22" x2="347.2" y2="263.22" class="tk"/>
<text transform="translate(349.8,265.52) scale(0.93,1)" class="tl3">0.0096</text>
<line x1="344" y1="237.30" x2="347.2" y2="237.30" class="tk"/>
<text transform="translate(349.8,239.60) scale(0.93,1)" class="tl3">0.0120</text>
<line x1="10.90" y1="487.5" x2="10.90" y2="484.5" class="tk"/>
<text transform="translate(10.90,497.5) scale(0.84,1)" class="tlb" text-anchor="middle">0</text>
<line x1="42.49" y1="487.5" x2="42.49" y2="484.5" class="tk"/>
<text transform="translate(42.49,497.5) scale(0.84,1)" class="tlb" text-anchor="middle">500</text>
<line x1="74.08" y1="487.5" x2="74.08" y2="484.5" class="tk"/>
<text transform="translate(74.08,497.5) scale(0.84,1)" class="tlb" text-anchor="middle">1000</text>
<line x1="105.67" y1="487.5" x2="105.67" y2="484.5" class="tk"/>
<text transform="translate(105.67,497.5) scale(0.84,1)" class="tlb" text-anchor="middle">1500</text>
<line x1="137.26" y1="487.5" x2="137.26" y2="484.5" class="tk"/>
<text transform="translate(137.26,497.5) scale(0.84,1)" class="tlb" text-anchor="middle">2000</text>
<line x1="168.85" y1="487.5" x2="168.85" y2="484.5" class="tk"/>
<text transform="translate(168.85,497.5) scale(0.84,1)" class="tlb" text-anchor="middle">2500</text>
<line x1="200.44" y1="487.5" x2="200.44" y2="484.5" class="tk"/>
<text transform="translate(200.44,497.5) scale(0.84,1)" class="tlb" text-anchor="middle">3000</text>
<line x1="232.03" y1="487.5" x2="232.03" y2="484.5" class="tk"/>
<text transform="translate(232.03,497.5) scale(0.84,1)" class="tlb" text-anchor="middle">3500</text>
<line x1="263.62" y1="487.5" x2="263.62" y2="484.5" class="tk"/>
<text transform="translate(263.62,497.5) scale(0.84,1)" class="tlb" text-anchor="middle">4000</text>
<line x1="333.27" y1="388.92" x2="326.27" y2="388.92" class="tk2"/>
<text transform="matrix(1,0,-0.5,1.1,341.90,390.60)" y="2.0" class="wl" text-anchor="middle">9</text>
<line x1="319.33" y1="408.63" x2="312.33" y2="408.63" class="tk2"/>
<text transform="matrix(1,0,-0.5,1.1,329.60,410.20)" y="2.0" class="wl" text-anchor="middle">10</text>
<line x1="305.40" y1="428.35" x2="298.40" y2="428.35" class="tk2"/>
<text transform="matrix(1,0,-0.5,1.1,315.50,430.30)" y="2.0" class="wl" text-anchor="middle">11</text>
<line x1="291.47" y1="448.07" x2="284.47" y2="448.07" class="tk2"/>
<text transform="matrix(1,0,-0.5,1.1,302.20,450.00)" y="2.0" class="wl" text-anchor="middle">12</text>
<line x1="277.53" y1="467.78" x2="270.53" y2="467.78" class="tk2"/>
<text transform="matrix(1,0,-0.5,1.1,288.90,469.30)" y="2.0" class="wl" text-anchor="middle">13</text>
<text transform="matrix(0.577,-0.817,1.0,0,338.60,428.40)" class="at3w" text-anchor="middle" y="2.0">Wavelength <tspan font-style="italic">&#955;</tspan>, &#181;m</text>
<text transform="translate(380,316) rotate(-90)" class="at3r" text-anchor="middle">Spectral Output <tspan font-style="italic">S</tspan></text>
<text x="151" y="520.8" class="at3" text-anchor="middle">Time <tspan font-style="italic">t</tspan>, ms</text>
<text x="188" y="546" class="capc" text-anchor="middle">(c)</text>
<text x="169.2" y="252.6" class="at3t">ZrO<tspan font-size="5.5" dy="1.8">2</tspan><tspan dy="-1.8"> coating artefact, 1200&#176;C</tspan></text>
<text x="170.8" y="277.8" class="at3s">Start</text>
<text x="210.8" y="287.3" class="at3s">Stop</text>
<line x1="197.3" y1="272.4" x2="81.8" y2="487.3" class="dash"/>
<line x1="212.7" y1="273.1" x2="93.8" y2="487.3" class="dash"/>
</svg></body></html>
